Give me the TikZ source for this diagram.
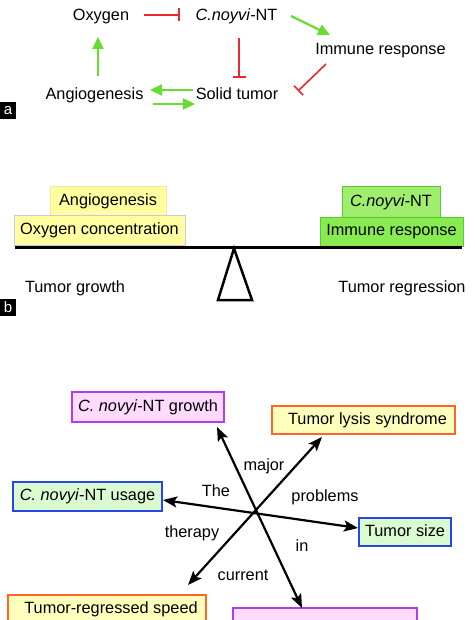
\documentclass[tikz,border=0pt]{standalone}
\usepackage{fontspec}
\setmainfont{Liberation Sans}
\usetikzlibrary{arrows.meta,calc}
\definecolor{grn}{RGB}{102,221,51}
\definecolor{rd}{RGB}{232,40,50}
\definecolor{yfill}{RGB}{255,255,160}
\definecolor{lav}{RGB}{200,200,230}
\definecolor{gfillA}{RGB}{160,238,110}
\definecolor{gfillB}{RGB}{136,236,80}
\definecolor{gdraw}{RGB}{90,200,50}
\definecolor{pfill}{RGB}{255,218,255}
\definecolor{pdraw}{RGB}{180,60,230}
\definecolor{yfillc}{RGB}{255,255,188}
\definecolor{odraw}{RGB}{255,100,40}
\definecolor{lgfill}{RGB}{218,250,208}
\definecolor{bdraw}{RGB}{40,70,230}
\begin{document}
\begin{tikzpicture}[x=1pt,y=-1pt,
  txt/.style={font=\fontsize{16.3}{19}\selectfont, inner sep=2pt, text height=11.5pt, text depth=3.4pt},
  inh/.style={rd, line width=1.6pt, -{Bar[width=13pt]}},
  act/.style={grn, line width=2.2pt, -{Triangle[length=12pt,width=11pt]}},
  lbl/.style={fill=black, text=white, font=\fontsize{15}{15}\selectfont, minimum width=16pt, minimum height=17pt, inner sep=0pt},
  bbox/.style={txt, inner sep=0pt, line width=1pt},
  cbox/.style={txt, inner sep=0pt, draw, line width=1.6pt},
  dbl/.style={black, line width=2.2pt, {Stealth[length=14pt,width=11pt,inset=3pt]}-{Stealth[length=14pt,width=11pt,inset=3pt]}}
]
\useasboundingbox (0,0) rectangle (474,620);
\clip (0,0) rectangle (474,620);
\fill[white] (0,0) rectangle (474,620);

% ---------- panel a ----------
\node[txt] (ox) at (101,16.5) {Oxygen};
\node[txt] (cn) at (236.5,16.5) {\textit{C.noyvi}-NT};
\node[txt] (im) at (380.5,50.5) {Immune response};
\node[txt] (st) at (237,95.5) {Solid tumor};
\node[txt] (an) at (94.5,95.5) {Angiogenesis};
\node[lbl] (la) at (8,111) {a};

\draw[inh] ($(ox)+(43,-1.5)$) -- ($(cn)+(-56.5,-1.5)$);
\draw[act] ($(cn)+(54.5,-0.5)$) -- ($(im)+(-50.5,-15.5)$);
\draw[inh] ($(cn)+(2.5,21.5)$) -- ($(st)+(2,-17.5)$);
\draw[inh] ($(im)+(-54.5,13.5)$) -- ($(st)+(61,-4.5)$);
\draw[act] ($(st)+(-44,-5.5)$) -- ($(an)+(55.5,-5.5)$);
\draw[act] ($(an)+(58.5,8.5)$) -- ($(st)+(-42,8.5)$);
\draw[act] ($(an)+(3.5,-19.5)$) -- ($(ox)+(-3,20.5)$);

% ---------- panel b ----------
\node[bbox, fill=yfill, draw=yfill!85!gray, minimum width=116pt, minimum height=28pt] (bang) at (108,201) {Angiogenesis};
\node[bbox, fill=yfill, draw=lav, minimum width=171pt, minimum height=30pt] (box) at (99.5,230) {Oxygen concentration};
\node[bbox, fill=gfillA, draw=gdraw, minimum width=98pt, minimum height=30pt] (bcn) at (391,202) {\textit{C.noyvi}-NT};
\node[bbox, fill=gfillB, draw=gdraw, minimum width=143pt, minimum height=29pt] (bim) at (391.5,231.5) {Immune response};
\coordinate (beamL) at (15,247);
\coordinate (beamR) at (462,247);
\draw[line width=3pt] (beamL) -- (beamR);
\draw[line width=2.5pt, line join=miter] (234,248.5) -- (218,300) -- (252,300) -- cycle;
\node[txt] (tg) at (75,288.5) {Tumor growth};
\node[txt] (tr) at (402,288.5) {Tumor regression};
\node[lbl] (lb) at (8,307.5) {b};

% ---------- panel c ----------
\node[cbox, fill=pfill, draw=pdraw, minimum width=152pt, minimum height=30pt] (g1) at (148,407) {\textit{C. novyi}-NT growth};
\node[cbox, fill=yfillc, draw=odraw, minimum width=183pt, minimum height=28pt] (g2) at (363.5,420) {\hspace{8pt}Tumor lysis syndrome};
\node[cbox, fill=lgfill, draw=bdraw, minimum width=149pt, minimum height=29pt] (g3) at (87.5,496.5) {\textit{C. novyi}-NT usage};
\node[cbox, fill=lgfill, draw=bdraw, minimum width=92pt, minimum height=28pt] (g4) at (405,532) {Tumor size};
\node[cbox, fill=yfillc, draw=odraw, minimum width=198pt, minimum height=28pt] (g5) at (107,609) {\hspace{8pt}Tumor-regressed speed};
\node[cbox, fill=pfill, draw=pdraw, minimum width=184pt, minimum height=28pt] (g6) at (325,622) {};

\draw[dbl] ($(g1)+(69,20)$) -- ($(g6)+(-23,-14)$);
\draw[dbl] ($(g2)+(-41.5,17)$) -- ($(g5)+(81,-24)$);
\draw[dbl] ($(g3)+(75.5,3.5)$) -- ($(g4)+(-47,-4)$);

\node[txt] (wThe) at (216,492.5) {The};
\node[txt] (wmajor) at (264,466.5) {major};
\node[txt] (wprob) at (325,497.5) {problems};
\node[txt] (wther) at (192,533.5) {therapy};
\node[txt] (win) at (302,547.5) {in};
\node[txt] (wcur) at (243,576.5) {current};
\end{tikzpicture}
\end{document}
